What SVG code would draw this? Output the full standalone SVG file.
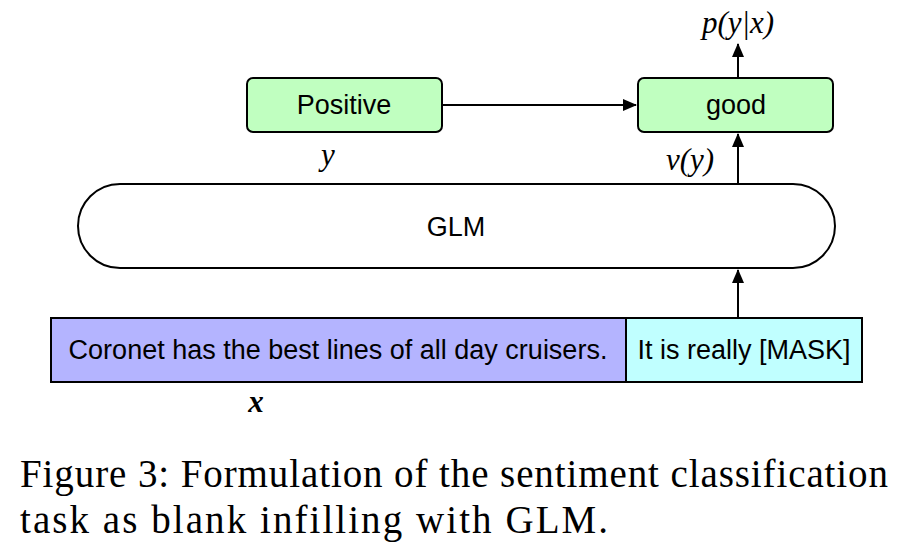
<svg xmlns="http://www.w3.org/2000/svg" width="911" height="552" viewBox="0 0 911 552">
<style>
.s{font-family:"Liberation Sans",Arial,sans-serif;font-size:27px;fill:#000;text-anchor:middle}
.m{font-family:"Liberation Serif","Times New Roman",serif;font-style:italic;font-size:31px;fill:#000;text-anchor:middle}
.c{font-family:"Liberation Serif","Times New Roman",serif;font-size:39px;fill:#000}
.g{fill:#c0ffc0;stroke:#000;stroke-width:2}
line{stroke:#000;stroke-width:2}
</style>
<defs><marker id="b" markerWidth="14" markerHeight="14" refX="13" refY="7" orient="auto" markerUnits="userSpaceOnUse"><path d="M0,1 L14,7 L0,13 Z" fill="#000"/></marker></defs>
<g id="positive"><rect class="g" x="247" y="78" width="195" height="54" rx="6"/><text class="s" x="344" y="114">Positive</text><text class="m" x="328" y="165">y</text></g>
<g id="good"><rect class="g" x="638" y="78" width="195" height="54" rx="6"/><text class="s" x="736" y="114">good</text></g>
<g id="glm"><rect x="78" y="184" width="757" height="84" rx="42" fill="#fff" stroke="#000" stroke-width="2"/><text class="s" x="456" y="236">GLM</text></g>
<g id="input"><rect x="51" y="318" width="575" height="64" fill="#b4b4ff" stroke="#000" stroke-width="2"/><text class="s" x="338" y="359">Coronet has the best lines of all day cruisers.</text>
<rect x="626" y="318" width="236" height="64" fill="#c0ffff" stroke="#000" stroke-width="2"/><text class="s" x="744" y="359">It is really [MASK]</text>
<text class="m" x="256" y="412" style="font-weight:bold">x</text></g>
<g id="connectors">
<line x1="442" y1="105" x2="636" y2="105" marker-end="url(#b)"/>
<line x1="738" y1="184" x2="738" y2="134" marker-end="url(#b)"/>
<line x1="738" y1="78" x2="738" y2="44" marker-end="url(#b)"/>
<line x1="738" y1="318" x2="738" y2="270" marker-end="url(#b)"/>
<text class="m" x="690" y="170">v(y)</text>
<text class="m" x="738" y="33">p(y|x)</text>
</g>
<text class="c" x="20" y="487" textLength="868" lengthAdjust="spacing">Figure 3: Formulation of the sentiment classification</text>
<text class="c" x="20" y="533" textLength="588" lengthAdjust="spacing">task as blank infilling with GLM.</text>
</svg>
